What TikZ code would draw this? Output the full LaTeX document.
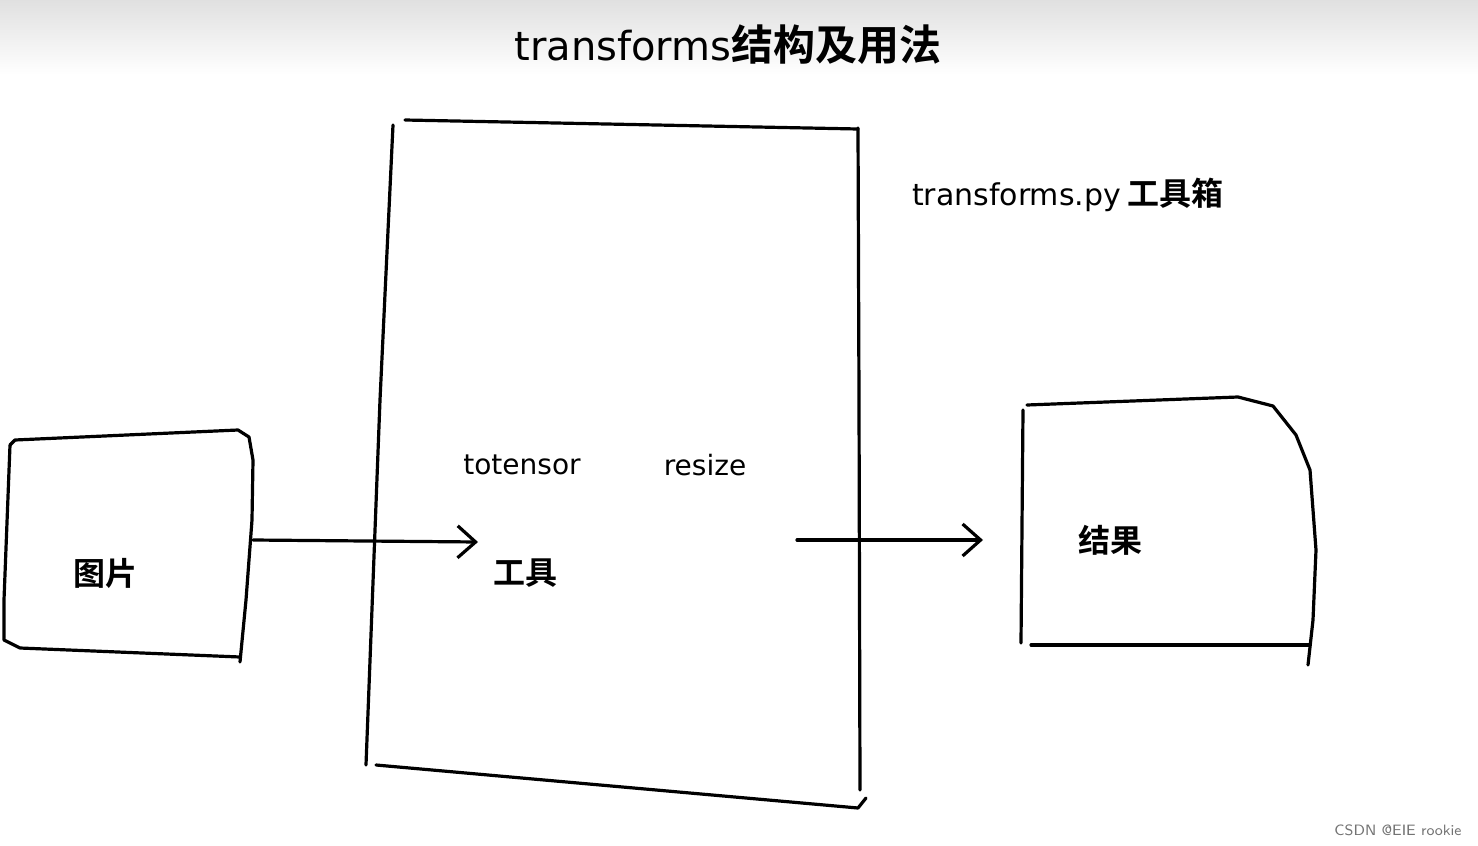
\documentclass[tikz,border=0pt]{standalone}
\usepackage{fontspec}
\newfontfamily\cjk{Noto Sans CJK SC}[BoldFont={Noto Sans CJK SC Bold}]
\newfontfamily\hand{DejaVu Sans}
\usetikzlibrary{arrows.meta}
\begin{document}
\begin{tikzpicture}[x=0.5pt,y=-0.5pt,
  ink/.style={line width=1.6pt,line join=round,line cap=round},
  arr/.style={ink,-{Straight Barb[length=9pt,width=16pt,line width=1.6pt]}},
  lab/.style={font=\cjk\bfseries\fontsize{16}{18}\selectfont},
  hw/.style={font=\hand\fontsize{14}{16}\selectfont}]
\useasboundingbox (0,0) rectangle (1478,846);
\fill[white] (0,0) rectangle (1478,846);
\shade[top color=black!12,bottom color=white] (0,0) rectangle (1478,75);
% title
\node[font=\fontsize{21}{24}\selectfont] (title) at (728,45) {{\hand\fontsize{20}{24}\selectfont transforms}{\cjk\bfseries 结构及用法}};
\node[anchor=west] (tbox) at (905,195) {{\hand\fontsize{15}{18}\selectfont transforms.py} {\cjk\bfseries\fontsize{16}{18}\selectfont 工具箱}};
% left box
\draw[ink] (10,445) -- (15,440) -- (238,430) -- (249,437) -- (253,460) -- (252,520) -- (246,600) -- (240,662);
\draw[ink] (240,657) -- (20,648) -- (4,640) -- (4,600) -- (10,445);
% big box
\draw[ink] (405,120) -- (858,129);
\draw[ink] (858,128) -- (859,400) -- (860,790);
\draw[ink] (376,765) -- (858,808) -- (866,798);
\draw[ink] (393,125) -- (380,400) -- (366,765);
% right box
\draw[ink] (1027,405) -- (1238,397) -- (1273,406) -- (1296,435) -- (1310,470) -- (1316,550) -- (1313,620) -- (1308,665);
\draw[ink] (1023,410) -- (1021,643);
\draw[ink] (1031,645) -- (1310,645);
% labels
\node[lab] (img) at (105,573) {图片};
\node[lab] (tool) at (525,573) {工具};
\node[lab] (res) at (1110,540) {结果};
\node[hw] (tt) at (522,465) {totensor};
\node[hw] (rs) at (705,465) {resize};
% arrows
\coordinate (a1s) at (253,540); \coordinate (a1e) at (478,542);
\coordinate (a2s) at (797,540); \coordinate (a2e) at (983,540);
\draw[arr] (a1s) -- (a1e);
\draw[arr] (a2s) -- (a2e);
\node[font=\fontsize{7.5}{9}\selectfont\sffamily,text=black!55] (wm) at (1398,830) {CSDN @EIE rookie};
\end{tikzpicture}
\end{document}
